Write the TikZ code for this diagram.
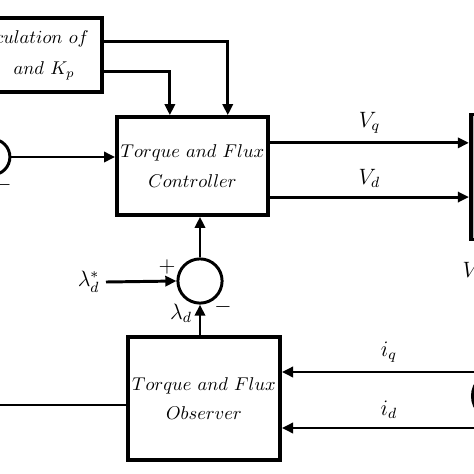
\documentclass[tikz,border=0pt]{standalone}
\usepackage{amsmath}
\usetikzlibrary{arrows.meta, calc}

\begin{document}
\begin{tikzpicture}[x=0.019cm, y=-0.019cm, >={Triangle[length=6pt,width=5.5pt]},
    blk/.style={draw, line width=2pt, align=center, font=\normalsize, inner sep=0pt},
    sumc/.style={circle, draw, line width=1.6pt, inner sep=0pt},
    sig/.style={line width=1.6pt},
    lbl/.style={font=\large}]
        \useasboundingbox (0,0) rectangle (474,474);
        \clip (0,0) rectangle (474,474);
        % blocks
        \node[blk, minimum width=2.85cm, minimum height=1.41cm] (calc) at (27,55)
            {$Calculation\ of$\\[5pt] $K_i\ \ and\ K_p$};
        \node[blk, minimum width=2.87cm, minimum height=1.86cm] (ctrl) at (192.5,166)
            {$Torque\ and\ Flux$\\[4pt] $Controller$};
        \node[blk, minimum width=2.89cm, minimum height=2.34cm] (obs) at (204,398.5)
            {$Torque\ and\ Flux$\\[4pt] $Observer$};
        \node[blk, fill=gray!55, minimum width=1.3cm, minimum height=2.37cm] (inv) at (505,177) {};
        \node[sumc, minimum size=0.84cm] (sum) at (200,281) {};
        \node[sumc, minimum size=0.68cm] (err) at (-8,157) {};
        \node[sumc, line width=2.5pt, minimum size=0.9cm] (mot) at (497,396) {};
        % free ends
        \coordinate (lamref) at (106,282);
        \coordinate (iqin) at (480,372);
        \coordinate (idin) at (480,428);
        \coordinate (obsin) at (-5,405);
        % connectors
        \draw[sig, ->] ([yshift=0.25cm]calc.east) -| ([xshift=0.67cm]ctrl.north);
        \draw[sig, ->] ([yshift=-0.32cm]calc.east) -| ([xshift=-0.43cm]ctrl.north);
        \draw[sig, ->] (err.east) -- (err.east -| ctrl.west);
        \draw[sig, ->] ([yshift=0.44cm]ctrl.east) -- ([yshift=0.44cm]ctrl.east -| inv.west)
            node[lbl, midway, above=1pt] {$V_q$};
        \draw[sig, ->] ([yshift=-0.59cm]ctrl.east) -- ([yshift=-0.59cm]ctrl.east -| inv.west)
            node[lbl, midway, above=1pt] {$V_d$};
        \draw[sig, ->] (sum.north) -- (sum.north |- ctrl.south);
        \draw[sig, ->] (lamref) -- (sum.west);
        \draw[sig, ->] (sum.south |- obs.north) -- (sum.south);
        \draw[sig, ->] (iqin) -- (iqin -| obs.east) node[lbl, pos=0.46, above=1pt] {$i_q$};
        \draw[sig, ->] (idin) -- (idin -| obs.east) node[lbl, pos=0.46, above=1pt] {$i_d$};
        \draw[sig] (obsin) -- (obsin -| obs.west);
        % labels
        \node[lbl, anchor=east] (lamlbl) at (lamref) {$\lambda_d^*$};
        \node[lbl] (plus) at (167,267) {$+$};
        \node[lbl] (minus) at (223,307) {$-$};
        \node[lbl] (lamd) at (181,313) {$\lambda_d$};
        \node[lbl] (eminus) at (3,185) {$-$};
        \node[lbl, anchor=west] (valpha) at (456,272) {$V_\alpha$};
    \end{tikzpicture}
\end{document}
